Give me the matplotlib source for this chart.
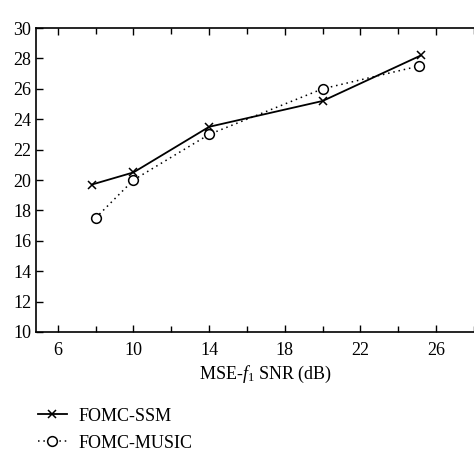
import numpy as np
import matplotlib
matplotlib.use("Agg")
import matplotlib.pyplot as plt
from matplotlib.ticker import MultipleLocator

# === DATA ===
snr_ssm = [7.8, 10, 14, 20, 25.2]
mse_ssm = [19.7, 20.5, 23.5, 25.2, 28.2]
snr_music = [8, 10, 14, 20, 25.1]
mse_music = [17.5, 20.0, 23.0, 26.0, 27.5]
labels = ["FOMC-SSM", "FOMC-MUSIC"]

plt.rcParams["font.family"] = ["Liberation Serif", "DejaVu Serif"]
plt.rcParams["mathtext.fontset"] = "custom"
plt.rcParams["mathtext.it"] = "Liberation Serif:italic"
plt.rcParams["mathtext.rm"] = "Liberation Serif"
plt.rcParams["font.size"] = 13

fig = plt.figure(figsize=(4.74, 4.74), dpi=100)
ax = fig.add_axes([0.076, 0.2996, 0.924, 0.6413])

ax.plot(snr_ssm, mse_ssm, color="black", lw=1.3, marker="x", ms=6, mew=1.1,
        label=labels[0])
ax.plot(snr_music, mse_music, color="black", lw=1.1, ls=(0, (1, 2.5)), marker="o",
        ms=7, mfc="white", mew=1.1, label=labels[1])

ax.set_xlim(4.85, 28)
ax.set_ylim(10, 30)
ax.xaxis.set_minor_locator(MultipleLocator(2))
ax.set_xticks([6, 10, 14, 18, 22, 26])
ax.yaxis.set_major_locator(MultipleLocator(2))
ax.tick_params(which="both", direction="in", top=True, right=False, length=5, width=1)
ax.tick_params(which="minor", length=4)
ax.tick_params(axis="x", pad=7)
ax.spines["right"].set_visible(False)
for s in ["left", "top", "bottom"]:
    ax.spines[s].set_linewidth(1.2)

ax.set_xlabel("MSE-$f_1$ SNR (dB)", labelpad=4, x=0.523)

fig.legend(loc="lower left", bbox_to_anchor=(0.045, 0.013), frameon=False,
           handlelength=1.65, handletextpad=0.6, labelspacing=0.55)

fig.savefig("out.png", dpi=100)
